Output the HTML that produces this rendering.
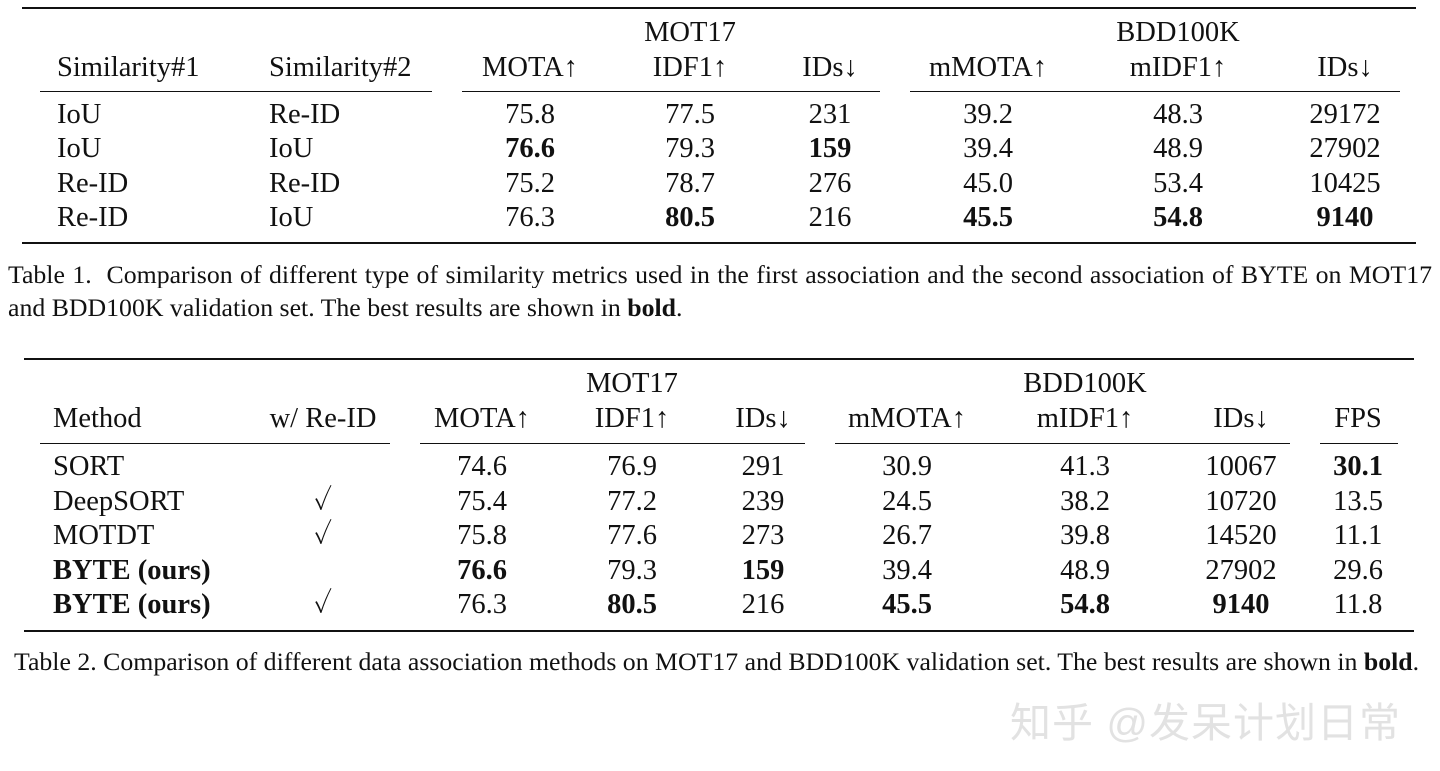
<!DOCTYPE html>
<html><head><meta charset="utf-8"><style>
html,body{margin:0;padding:0;background:#fff;}
body{width:1440px;height:771px;position:relative;overflow:hidden;font-family:"Liberation Serif","Noto Serif CJK SC",serif;color:#111;}
.t{position:absolute;font-size:28.5px;white-space:nowrap;line-height:1;}
.c{transform:translate(-50%,-50%);}
.l{transform:translateY(-50%);}
.b{font-weight:bold;}
.r{position:absolute;background:#111;}
.cap{position:absolute;font-size:25.8px;white-space:nowrap;line-height:1;transform:translateY(-50%);}
.wm{position:absolute;left:1010px;top:689px;font-family:"Liberation Sans","Noto Sans CJK SC",sans-serif;font-size:41px;color:#e2e2e2;white-space:nowrap;letter-spacing:1px;}
</style></head><body>
<div>
<div class="r" style="left:22px;top:7px;width:1394px;height:2px"></div>
<span class="t c" style="left:690px;top:33px">MOT17</span>
<span class="t c" style="left:1178px;top:33px">BDD100K</span>
<span class="t l" style="left:57px;top:68px">Similarity#1</span>
<span class="t l" style="left:269px;top:68px">Similarity#2</span>
<span class="t c" style="left:530px;top:68px">MOTA↑</span>
<span class="t c" style="left:690px;top:68px">IDF1↑</span>
<span class="t c" style="left:830px;top:68px">IDs↓</span>
<span class="t c" style="left:988px;top:68px">mMOTA↑</span>
<span class="t c" style="left:1178px;top:68px">mIDF1↑</span>
<span class="t c" style="left:1345px;top:68px">IDs↓</span>
<div class="r" style="left:40px;top:91px;width:392px;height:1px"></div>
<div class="r" style="left:462px;top:91px;width:418px;height:1px"></div>
<div class="r" style="left:910px;top:91px;width:490px;height:1px"></div>
<div id="t1rows"></div>
<div class="r" style="left:22px;top:242px;width:1394px;height:2px"></div>
</div>
<span class="cap" style="left:8px;top:275px;width:1424px;text-align:justify;text-align-last:justify;white-space:normal;height:26px;line-height:26px;overflow:hidden">Table 1.&nbsp; Comparison of different type of similarity metrics used in the first association and the second association of BYTE on MOT17</span>
<span class="cap" style="left:8px;top:308px">and BDD100K validation set. The best results are shown in <b>bold</b>.</span>

<div>
<div class="r" style="left:24px;top:358px;width:1390px;height:2px"></div>
<span class="t c" style="left:632px;top:384px">MOT17</span>
<span class="t c" style="left:1085px;top:384px">BDD100K</span>
<span class="t l" style="left:53px;top:419px">Method</span>
<span class="t c" style="left:323px;top:419px">w/ Re-ID</span>
<span class="t c" style="left:482px;top:419px">MOTA↑</span>
<span class="t c" style="left:632px;top:419px">IDF1↑</span>
<span class="t c" style="left:763px;top:419px">IDs↓</span>
<span class="t c" style="left:907px;top:419px">mMOTA↑</span>
<span class="t c" style="left:1085px;top:419px">mIDF1↑</span>
<span class="t c" style="left:1241px;top:419px">IDs↓</span>
<span class="t c" style="left:1358px;top:419px">FPS</span>
<div class="r" style="left:40px;top:443px;width:350px;height:1px"></div>
<div class="r" style="left:420px;top:443px;width:385px;height:1px"></div>
<div class="r" style="left:835px;top:443px;width:455px;height:1px"></div>
<div class="r" style="left:1320px;top:443px;width:78px;height:1px"></div>
<div id="t2rows"></div>
<div class="r" style="left:24px;top:630px;width:1390px;height:2px"></div>
</div>
<span class="cap" style="left:14px;top:662px">Table 2. Comparison of different data association methods on MOT17 and BDD100K validation set. The best results are shown in <b>bold</b>.</span>
<div class="wm">知乎 @发呆计划日常</div>

<script>
const t1Cols=[57,269,530,690,830,988,1178,1345];
const t1Align=['l','l','c','c','c','c','c','c'];
const t1RowY=[115,149,184,218];
const t1Rows=[
 ['IoU','Re-ID','75.8','77.5','231','39.2','48.3','29172'],
 ['IoU','IoU','*76.6','79.3','*159','39.4','48.9','27902'],
 ['Re-ID','Re-ID','75.2','78.7','276','45.0','53.4','10425'],
 ['Re-ID','IoU','76.3','*80.5','216','*45.5','*54.8','*9140']
];
const t2Cols=[53,323,482,632,763,907,1085,1241,1358];
const t2Align=['l','c','c','c','c','c','c','c','c'];
const t2RowY=[467,502,536,571,605];
const t2Rows=[
 ['SORT','','74.6','76.9','291','30.9','41.3','10067','*30.1'],
 ['DeepSORT','✓','75.4','77.2','239','24.5','38.2','10720','13.5'],
 ['MOTDT','✓','75.8','77.6','273','26.7','39.8','14520','11.1'],
 ['*BYTE (ours)','','*76.6','79.3','*159','39.4','48.9','27902','29.6'],
 ['*BYTE (ours)','✓','76.3','*80.5','216','*45.5','*54.8','*9140','11.8']
];
function build(id,rows,cols,align,ys,prefix){
 const host=document.getElementById(id);
 rows.forEach((row,ri)=>{
  row.forEach((v,ci)=>{
   if(!v)return;
   const s=document.createElement('span');
   let bold=v[0]==='*';
   s.textContent=bold?v.slice(1):v;
   s.className='t '+align[ci]+(bold?' b':'');
   s.style.left=cols[ci]+'px';s.style.top=ys[ri]+'px';
   
   
   host.appendChild(s);
  });
 });
}
build('t1rows',t1Rows,t1Cols,t1Align,t1RowY,'t1');
build('t2rows',t2Rows,t2Cols,t2Align,t2RowY,'t2');
</script>
</body></html>
